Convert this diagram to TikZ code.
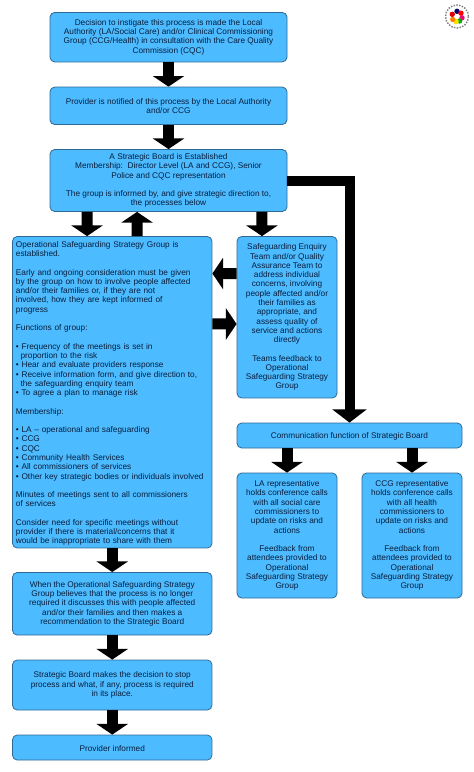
\documentclass[tikz,border=0pt]{standalone}
\usepackage{fontspec}
\setmainfont{Liberation Sans}
\usetikzlibrary{arrows.meta}
\definecolor{boxblue}{RGB}{77,187,255}
\definecolor{boxline}{RGB}{45,105,150}
\definecolor{boxtext}{RGB}{8,30,60}
\tikzset{
  bluebox/.style={draw=boxline,line width=0.6pt,fill=boxblue,rounded corners=3.5pt,
    text=boxtext,inner sep=0pt,font=\fontsize{6.2}{6.95}\selectfont,align=center,
    execute at begin node={\rule{0pt}{6.4pt}}},
  blockarrow/.style={line width=8.25pt,-{Triangle[width=23.25pt,length=8pt]}},
  longarrow/.style={line width=7.5pt,-{Triangle[width=25.5pt,length=10pt]}}
}
\begin{document}
\begin{tikzpicture}[x=0.75pt,y=-0.75pt]
\useasboundingbox (0,0) rectangle (474,772);
% main column
\node[bluebox,minimum width=177.75pt,minimum height=37.1pt] (decision) at (168.5,37.2) {Decision to instigate this process is made the Local\\Authority (LA/Social Care) and/or Clinical Commissioning\\Group (CCG/Health) in consultation with the Care Quality\\Commission (CQC)};
\node[bluebox,minimum width=177.75pt,minimum height=28.1pt] (notified) at (168.5,105.8) {Provider is notified of this process by the Local Authority\\and/or CCG};
\node[bluebox,minimum width=177.75pt,minimum height=46.5pt] (board) at (168.5,180.5) {A Strategic Board is Established\\Membership:\ \ Director Level (LA and CCG), Senior\\Police and CQC representation\\[6.95pt]The group is informed by, and give strategic direction to,\\the processes below};
\node[bluebox,align=left,text width=144.5pt,minimum width=149.6pt,minimum height=233.6pt] (ops) at (112.25,392.25) {Operational Safeguarding Strategy Group is\\established.\\[6.95pt]
Early and ongoing consideration must be given\\by the group on how to involve people affected\\and/or their families or, if they are not\\involved, how they are kept informed of\\progress\\[6.95pt]
Functions of group:\\[6.95pt]
• Frequency of the meetings is set in\\\hspace*{3.5pt}proportion to the risk\\• Hear and evaluate providers response\\• Receive information form, and give direction to,\\\hspace*{3.5pt}the safeguarding enquiry team\\• To agree a plan to manage risk\\[6.95pt]
Membership:\\[6.95pt]
• LA -- operational and safeguarding\\• CCG\\• CQC\\• Community Health Services\\• All commissioners of services\\• Other key strategic bodies or individuals involved\\[6.95pt]
Minutes of meetings sent to all commissioners\\of services\\[6.95pt]
Consider need for specific meetings without\\provider if there is material/concerns that it\\would be inappropriate to share with them};
\node[bluebox,minimum width=149.6pt,minimum height=46.9pt] (believes) at (112.25,603.75) {When the Operational Safeguarding Strategy\\Group believes that the process is no longer\\required it discusses this with people affected\\and/or their families and then makes a\\recommendation to the Strategic Board};
\node[bluebox,minimum width=149.6pt,minimum height=37.5pt] (decides) at (112.25,685) {Strategic Board makes the decision to stop\\process and what, if any, process is required\\in its place.};
\node[bluebox,minimum width=149.6pt,minimum height=18.75pt] (informed) at (112.25,747.5) {Provider informed};
% right side
\node[bluebox,minimum width=75pt,minimum height=121.1pt] (enquiry) at (287,317.25) {Safeguarding Enquiry\\Team and/or Quality\\Assurance Team to\\address individual\\concerns, involving\\people affected and/or\\their families as\\appropriate, and\\assess quality of\\service and actions\\directly\\[6.95pt]Teams feedback to\\Operational\\Safeguarding Strategy\\Group};
\node[bluebox,minimum width=168.75pt,minimum height=18.75pt] (comm) at (349.5,435.5) {Communication function of Strategic Board};
\node[bluebox,minimum width=75pt,minimum height=93.75pt] (larep) at (287,535.5) {LA representative\\holds conference calls\\with all social care\\commissioners to\\update on risks and\\actions\\[6.95pt]Feedback from\\attendees provided to\\Operational\\Safeguarding Strategy\\Group};
\node[bluebox,minimum width=75pt,minimum height=93.75pt] (ccgrep) at (412,535.5) {CCG representative\\holds conference calls\\with all health\\commissioners to\\update on risks and\\actions\\[6.95pt]Feedback from\\attendees provided to\\Operational\\Safeguarding Strategy\\Group};
% arrows
\draw[blockarrow] (decision.south) -- (notified.north);
\draw[blockarrow] (notified.south) -- (board.north);
\draw[blockarrow] ([xshift=-61.1pt]board.south) -- ([xshift=-18.9pt]ops.north);
\draw[blockarrow] ([xshift=18.6pt]ops.north) -- ([xshift=-23.6pt]board.south);
\draw[blockarrow] ([xshift=70.1pt]board.south) -- ([xshift=-18.75pt]enquiry.north);
\draw[blockarrow] ([yshift=32.8pt]enquiry.west) -- ([yshift=89.06pt]ops.east);
\draw[blockarrow] ([yshift=51.2pt]ops.east) -- ([yshift=-5.06pt]enquiry.west);
\draw[longarrow] (board.east) -| (comm.north);
\draw[blockarrow] (larep.north |- comm.south) -- (larep.north);
\draw[blockarrow] (ccgrep.north |- comm.south) -- (ccgrep.north);
\draw[blockarrow] (ops.south) -- (believes.north);
\draw[blockarrow] (believes.south) -- (decides.north);
\draw[blockarrow] (decides.south) -- (informed.north);
% logo in the corner
\draw[gray,densely dotted,line width=1.1pt] (457,16.5) circle (11.5);
\foreach \ang/\col in {270/blue!45!black,320/red,15/magenta!80!red,60/green!70!black,100/yellow!85!orange,145/orange,205/red!85!black}
  \fill[\col] (457,16.5) ++(\ang:5.2) circle (2.7);
\end{tikzpicture}
\end{document}
